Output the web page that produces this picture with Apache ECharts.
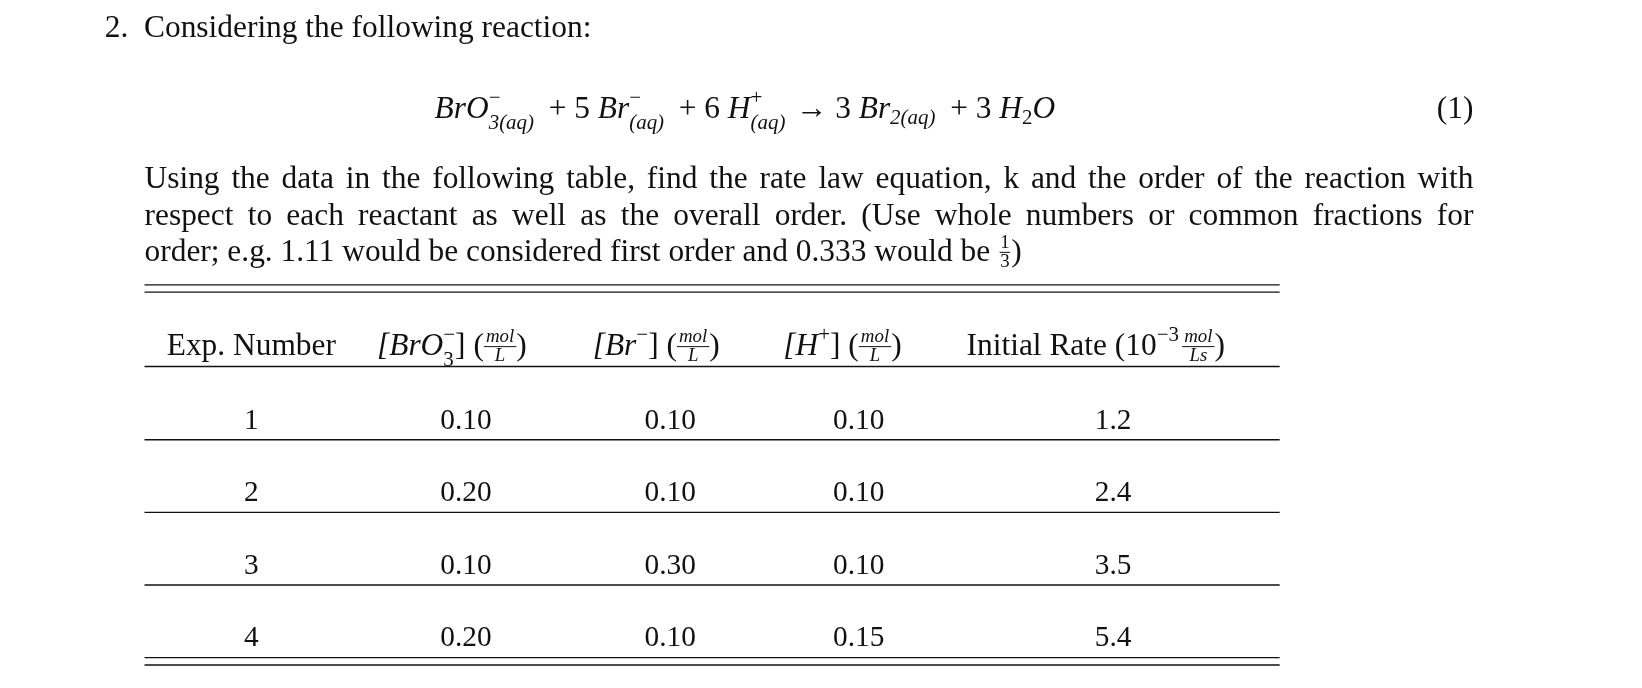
<!DOCTYPE html>
<html><head><meta charset="utf-8">
<script src="https://cdn.jsdelivr.net/npm/echarts@6/dist/echarts.min.js"></script>
<style>html,body{margin:0;background:#fff}#c{width:1642px;height:688px}</style>
</head><body><div id="c"></div>
<script>
var expNumbers = ['1','2','3','4'];
var bro3Conc = ['0.10','0.20','0.10','0.20'];
var brConc = ['0.10','0.10','0.30','0.10'];
var hConc = ['0.10','0.10','0.10','0.15'];
var initialRate = ['1.2','2.4','3.5','5.4'];
var paragraphLines = [
 'Using the data in the following table, find the rate law equation, k and the order of the reaction with',
 'respect to each reactant as well as the overall order. (Use whole numbers or common fractions for'
];
var paragraphLast = 'order; e.g. 1.11 would be considered first order and 0.333 would be';

var S = 1642/1568;
var FF = 'Liberation Serif, DejaVu Serif, serif';
var BIG = 30;
var els = [];
var cv = document.createElement('canvas').getContext('2d');
function W(s, size, it){ cv.font = (it?'italic ':'')+(size*S)+'px '+FF; return cv.measureText(s).width/S; }
function T(x, y, s, o){
  o = o || {};
  els.push({type:'text', x:x*S, y:y*S, style:{text:s, fontFamily:FF, fontSize:(o.size||BIG)*S,
    fontStyle:o.it?'italic':'normal', fill:'#111', align:o.align||'left', verticalAlign:'middle'}});
}
function L(x1,y,x2,w){
  els.push({type:'line', shape:{x1:x1*S,y1:y*S,x2:x2*S,y2:y*S}, style:{stroke:'#111', lineWidth:(w||1.4)}});
}
function frac(x, y, a, b, w, it){
  T(x, y-9, a, {size:18, it:it, align:'center'});
  T(x, y+9, b, {size:18, it:it, align:'center'});
  L(x-w/2, y, x+w/2, 1);
}
// sequential layout: pieces [text, size, italic, dy] or {sup, sub} stacks or {gap} or {frac}
function seq(x, y, pieces){
  pieces.forEach(function(p){
    if (p.gap !== undefined){ x += p.gap; return; }
    if (p.frac){ var w = Math.max(W(p.frac[0],18,true), W(p.frac[1],18,true)) + 4; frac(x + w/2, y, p.frac[0], p.frac[1], w, true); x += w; return; }
    if (p.sup !== undefined || p.sub !== undefined){
      var ws = 0;
      if (p.sup){ T(x, y-11, p.sup, {size:20}); ws = Math.max(ws, W(p.sup,20)); }
      if (p.sub){ T(x, y+(p.sup?13:8), p.sub, {size:20, it:p.subIt}); ws = Math.max(ws, W(p.sub,20,p.subIt)); }
      x += ws; return;
    }
    var sz = p[1]||BIG;
    T(x, y, p[0], {size:sz, it:p[2]});
    x += W(p[0], sz, p[2]);
  });
  return x;
}
// title
T(100, 27, '2.  Considering the following reaction:');
// equation
var ey = 105;
seq(415, ey, [['BrO',BIG,true],{sup:'−',sub:'3(aq)',subIt:true},{gap:14},['+ 5 '],['Br',BIG,true],{sup:'−',sub:'(aq)',subIt:true},
  {gap:14},['+ 6 '],['H',BIG,true],{sup:'+',sub:'(aq)',subIt:true},{gap:10},['→ 3 '],['Br',BIG,true],{sub:'2(aq)',subIt:true},
  {gap:14},['+ 3 '],['H',BIG,true],{sub:'2'},['O',BIG,true]]);
T(1407, ey, '(1)', {align:'right'});
// paragraph, justified
paragraphLines.forEach(function(line, i){
  var words = line.split(' ');
  var tot = 0; words.forEach(function(w){ tot += W(w, BIG); });
  var gap = (1407-138-tot)/(words.length-1);
  var x = 138;
  words.forEach(function(w){ T(x, 172+i*35, w); x += W(w, BIG) + gap; });
});
var xe = seq(138, 241, [[paragraphLast]]);
frac(xe + 14, 241, '1', '3', 10, false);
T(xe + 20, 241, ')');
// table rules
L(138, 272, 1222); L(138, 279, 1222);
var hy = 331;
T(240, hy, 'Exp. Number', {align:'center'});
seq(360, hy, [['[BrO',BIG,true],{sup:'−',sub:'3'},['] (',BIG],{frac:['mol','L']},[')']]);
seq(566, hy, [['[Br',BIG,true],{sup:'−'},['] (',BIG],{frac:['mol','L']},[')']]);
seq(748, hy, [['[H',BIG,true],{sup:'+'},['] (',BIG],{frac:['mol','L']},[')']]);
seq(923, hy, [['Initial Rate (10'],{sup:'−3'},{gap:3},{frac:['mol','Ls']},[')']]);
L(138, 350, 1222);
var cols = [[240, expNumbers],[445, bro3Conc],[640, brConc],[820, hConc],[1063, initialRate]];
for (var r = 0; r < 4; r++){
  var y = 402 + r*69.3;
  cols.forEach(function(c){ T(c[0], y, c[1][r], {align:'center', size:28}); });
  if (r < 3) L(138, y+18, 1222);
}
L(138, 628, 1222); L(138, 635, 1222);
var chart = echarts.init(document.getElementById('c'));
chart.setOption({backgroundColor:'#fff', graphic:{elements:els}});
</script></body></html>
